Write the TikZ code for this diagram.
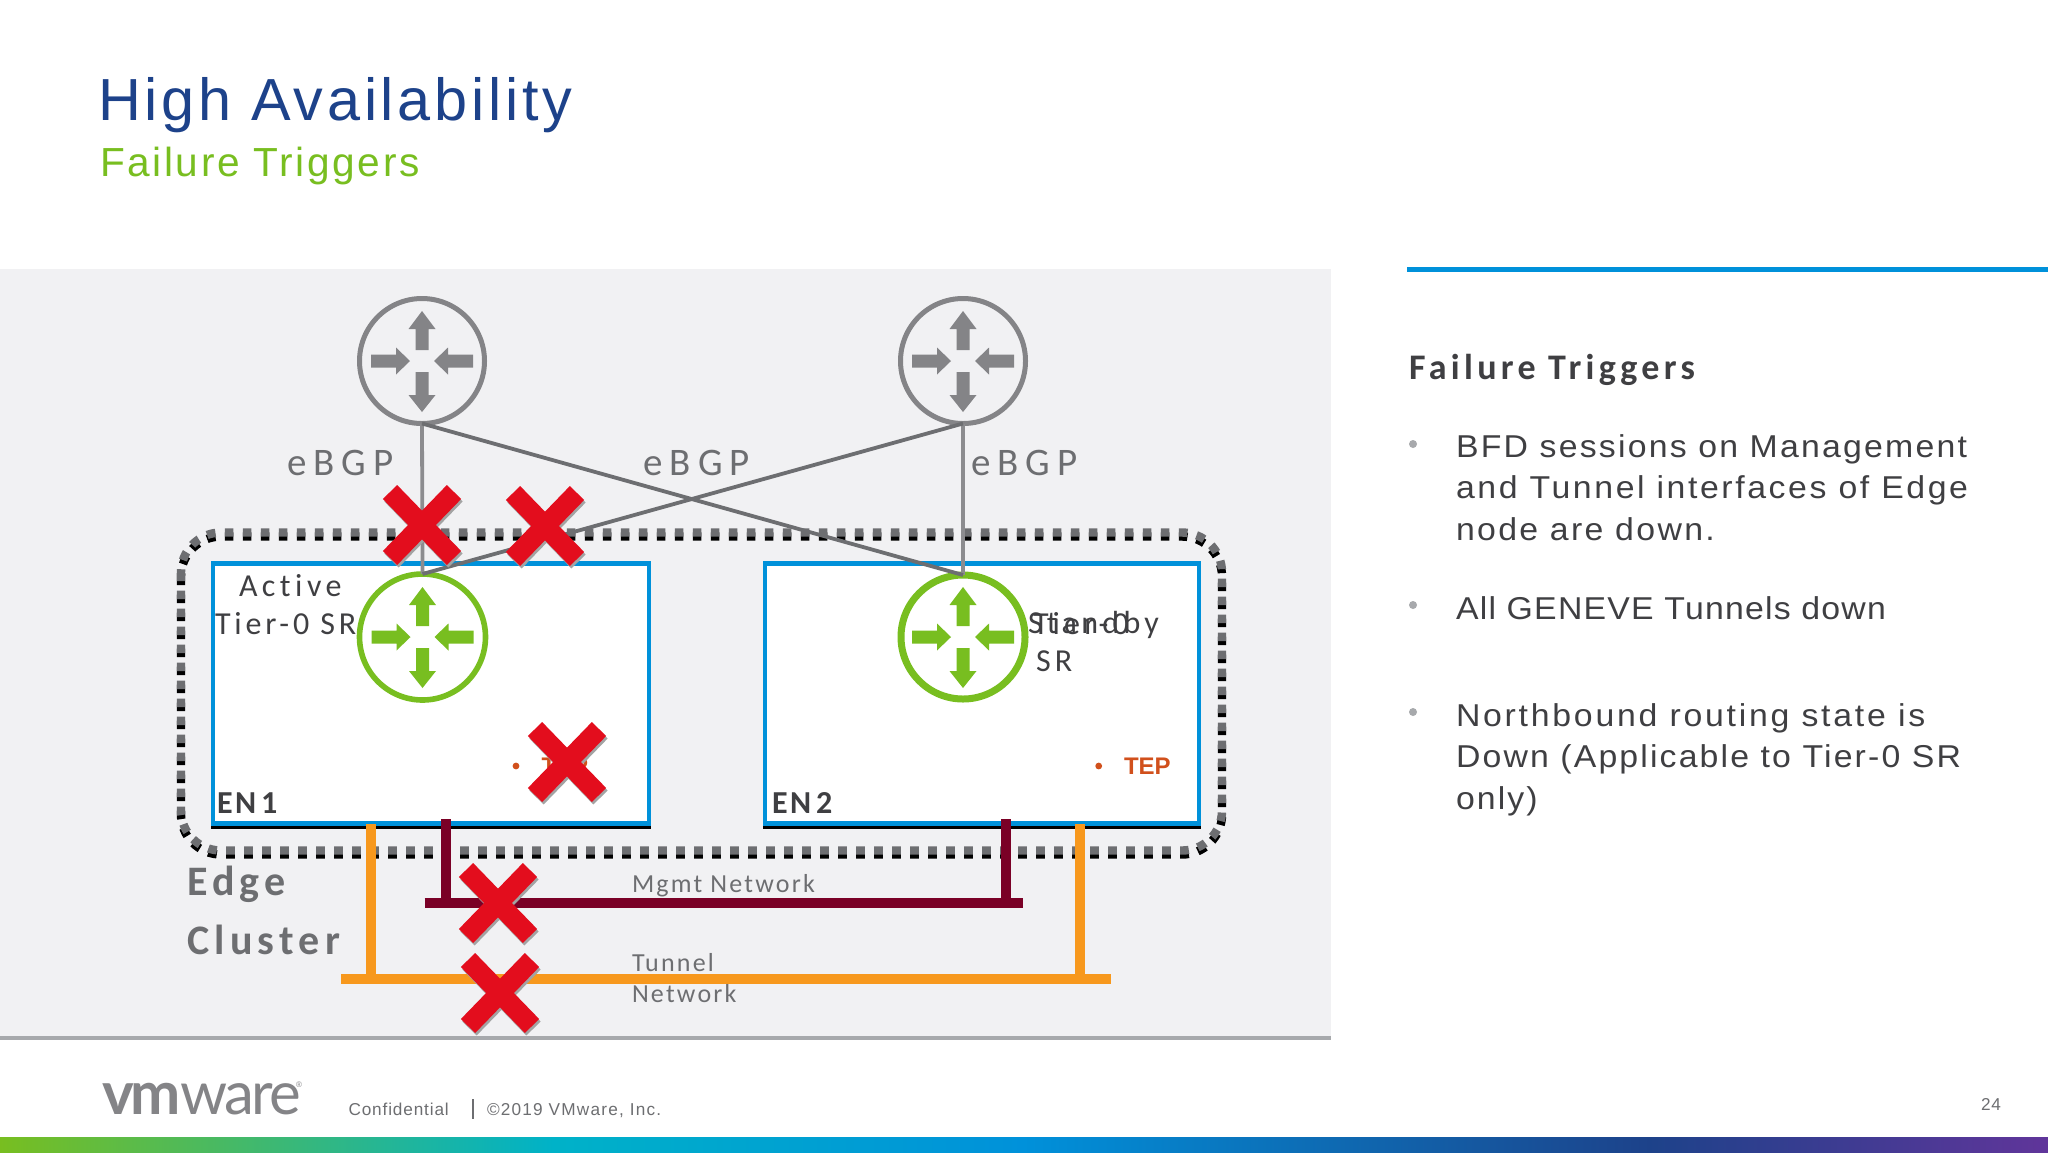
\documentclass[tikz,border=0pt]{standalone}
\usepackage{fontspec}
\usetikzlibrary{calc}
\setmainfont{Liberation Sans}
\newfontfamily\bodyfont[FakeStretch=1.07]{Liberation Sans}
\newfontfamily\calfont[Ligatures=NoCommon]{Carlito}
\newfontfamily\calnarrow[Ligatures=NoCommon,WordSpace=0.5]{Carlito}
\newfontfamily\latofont{Lato}
\definecolor{panel}{HTML}{F1F1F3}
\definecolor{vmblue}{HTML}{0091DA}
\definecolor{navy}{HTML}{1D428A}
\definecolor{vmgreen}{HTML}{78BE20}
\definecolor{vmteal}{HTML}{00B2C8}
\definecolor{vmpurple}{HTML}{60359A}
\definecolor{greyline}{HTML}{6D6E71}
\definecolor{greyv}{HTML}{8C8C8F}
\definecolor{greyr}{HTML}{848487}
\definecolor{darktext}{HTML}{3F3F42}
\definecolor{xred}{HTML}{E30D1D}
\definecolor{xshadow}{HTML}{A3A3A3}
\definecolor{orangeb}{HTML}{F7981D}
\definecolor{maroon}{HTML}{7A0026}
\definecolor{tepc}{HTML}{D1501C}
\definecolor{ruleg}{HTML}{A7A9AC}
\newcommand{\fsz}[1]{\fontsize{#1}{#1}\selectfont}
\tikzset{
  x=0.5pt,y=-0.5pt,
  lbl/.style={inner sep=0pt,outer sep=0pt,anchor=base west},
  routerg/.style={circle,draw=greyr,line width=2.5pt,minimum size=62.5pt,inner sep=0pt,outer sep=0pt,fill=panel},
  routerc/.style={circle,draw=vmgreen,line width=3.5pt,minimum size=62pt,inner sep=0pt,outer sep=0pt,fill=white},
  cross/.style={line width=1.9pt,draw=greyline},
  vert/.style={line width=1.9pt,draw=greyv},
  boxn/.style={rectangle,draw=vmblue,fill=white,line width=2.3pt,minimum width=218pt,minimum height=130pt,inner sep=0pt,outer sep=0pt},
  orangeline/.style={draw=orangeb,line width=4.7pt},
  maroonline/.style={draw=maroon,line width=4.7pt},
  pics/rarrows/.style={code={
    \fill[#1] (-6.5,-11) -- (-6.5,-32) -- (-13.5,-32) -- (0,-50) -- (13.5,-32) -- (6.5,-32) -- (6.5,-11) -- cycle;
    \fill[#1] (-6.5,11) -- (-6.5,34) -- (-13.5,34) -- (0,51) -- (13.5,34) -- (6.5,34) -- (6.5,11) -- cycle;
    \fill[#1] (-51,-6.5) -- (-26,-6.5) -- (-26,-13.5) -- (-12,0) -- (-26,13.5) -- (-26,6.5) -- (-51,6.5) -- cycle;
    \fill[#1] (51,-6.5) -- (26,-6.5) -- (26,-13.5) -- (12,0) -- (26,13.5) -- (26,6.5) -- (51,6.5) -- cycle;
  }},
  pics/redx/.style={code={
    \draw[xshadow,line width=10pt] (-30.5,-30.5) -- (33.5,35.5) (33.5,-30.5) -- (-30.5,35.5);
    \draw[xred,line width=10pt] (-32,-33) -- (32,33) (32,-33) -- (-32,33);
  }},
}
\begin{document}
\begin{tikzpicture}
\useasboundingbox (0,0) rectangle (2048,1152);
\fill[white] (0,0) rectangle (2048,1152);
% panel
\fill[panel] (0,269) rectangle (1331,1036);
\fill[ruleg] (0,1036) rectangle (1331,1040);
% top-right rule
\fill[vmblue] (1407,267) rectangle (2048,272);
% bottom band
\shade[left color=vmgreen,right color=vmteal] (0,1137) rectangle (553,1152);
\shade[left color=vmteal,right color=vmblue] (552,1137) rectangle (1024,1152);
\shade[left color=vmblue,right color=navy] (1023,1137) rectangle (1650,1152);
\shade[left color=navy,right color=vmpurple] (1649,1137) rectangle (2048,1152);
% title
\node[lbl,text=navy] (title) at (98,120) {\fsz{29.7}\addfontfeature{LetterSpace=6.3}High Availability};
\node[lbl,text=vmgreen] (subtitle) at (100,176) {\fsz{20.3}\addfontfeature{LetterSpace=6.5}Failure Triggers};
% dashed cluster
\draw[black,line width=4.2pt,dash pattern=on 4.3pt off 4.7pt,rounded corners=20pt,yshift=-2pt] (181,532.5) rectangle (1222,850.5);
\draw[greyline,line width=4.2pt,dash pattern=on 4.3pt off 4.7pt,rounded corners=20pt] (181,532.5) rectangle (1222,850.5);
% boxes
\fill[black] (211,600) rectangle (651,829);
\fill[black] (763,600) rectangle (1201,829);
\node[boxn] (en1) at (431,693.5) {};
\node[boxn,minimum width=217pt] (en2) at (982,693.5) {};
% routers
\node[routerg] (r1) at (422,361) {};
\node[routerg] (r2) at (963,361) {};
\node[routerc,line width=2.8pt,minimum size=63pt] (g1) at (422.5,637) {};
\node[routerc] (g2) at (963,637) {};
\pic at (422,361) {rarrows=greyr};
\pic at (963,361) {rarrows=greyr};
\pic at (422.5,637) {rarrows=vmgreen};
\pic at (963,637) {rarrows=vmgreen};
% links
\draw[vert] (r1.south) -- (g1.north);
\draw[vert] (r2.south) -- (g2.north);
\draw[cross] (r1.south) -- (g2.north);
\draw[cross] (r2.south) -- (g1.north);
% networks
\coordinate (mgl) at (424.5,903);
\coordinate (mgr) at (1023,903);
\coordinate (tnl) at (341,979);
\coordinate (tnr) at (1111,979);
\coordinate (m1) at (446,819);
\coordinate (m2) at (1006,819);
\coordinate (t1) at (371,824);
\coordinate (t2) at (1080,824);
\draw[maroonline] (mgl) -- (mgr);
\draw[maroonline] (m1) -- (m1 |- mgl);
\draw[maroonline] (m2) -- (m2 |- mgl);
\draw[orangeline] (tnl) -- (tnr);
\draw[orangeline] (t1) -- (t1 |- tnl);
\draw[orangeline] (t2) -- (t2 |- tnl);
% labels diagram
\node[lbl,text=greyline] (b1) at (287,475) {\calfont\fsz{19.5}\addfontfeature{LetterSpace=18}eBGP};
\node[lbl,text=greyline] (b2) at (643.5,475) {\calfont\fsz{19.5}\addfontfeature{LetterSpace=18}eBGP};
\node[lbl,text=greyline] (b3) at (971,475) {\calfont\fsz{19.5}\addfontfeature{LetterSpace=18}eBGP};
\node[lbl,text=darktext] (act) at (239,596.5) {\calfont\fsz{16}\addfontfeature{LetterSpace=14}Active};
\node[lbl,text=darktext] (t0a) at (215,634) {\calfont\fsz{16}\addfontfeature{LetterSpace=12}Tier-0 SR};
\node[lbl,text=darktext] (stb) at (1028,633) {\calfont\fsz{16}\addfontfeature{LetterSpace=13.5}Standby};
\node[lbl,text=darktext] (t0b) at (1033,634) {\calfont\fsz{16}\addfontfeature{LetterSpace=13}Tier-0};
\node[lbl,text=darktext] (srb) at (1036,671.5) {\calfont\fsz{16}\addfontfeature{LetterSpace=13}SR};
\node[lbl,text=darktext] (n1) at (217,813.5) {\calnarrow\bfseries\fsz{16}\addfontfeature{LetterSpace=8}EN 1};
\node[lbl,text=darktext] (n2) at (772,813.5) {\calnarrow\bfseries\fsz{16}\addfontfeature{LetterSpace=8}EN 2};
\fill[tepc] (1098.7,766) circle (3.4);
\node[lbl,text=tepc] (tep2) at (1124,774) {\bfseries\fsz{12}TEP};
\fill[tepc] (516,766) circle (3.4);
\node[lbl,text=tepc] (tep1) at (541.5,774) {\bfseries\fsz{12}TEP};
\node[lbl,text=greyline] (edge) at (187,895) {\calfont\bfseries\fsz{21}\addfontfeature{LetterSpace=12.5}Edge};
\node[lbl,text=greyline] (clus) at (187,954) {\calfont\bfseries\fsz{21}\addfontfeature{LetterSpace=12.5}Cluster};
\node[lbl,text=greyline] (mgmt) at (632,892) {\calfont\fsz{13}\addfontfeature{LetterSpace=8.5}Mgmt Network};
\node[lbl,text=greyline] (tun) at (632,971) {\calfont\fsz{13}\addfontfeature{LetterSpace=8.5}Tunnel};
\node[lbl,text=greyline] (net) at (632,1002) {\calfont\fsz{13}\addfontfeature{LetterSpace=8.5}Network};
% red crosses
\pic at (422,525) {redx};
\pic at (545,526) {redx};
\pic at (567,762) {redx};
\pic at (498,903) {redx};
\pic at (500,993) {redx};
% right text
\node[lbl,text=darktext] (rh) at (1409,379) {\calfont\bfseries\fsz{18}\addfontfeature{LetterSpace=12}Failure Triggers};
\fill[ruleg] (1413,444) circle (4);
\fill[ruleg] (1413,605) circle (4);
\fill[ruleg] (1413,712) circle (4);
\node[lbl,text=darktext] (l1) at (1456,457) {\bodyfont\fsz{15.8}\addfontfeature{LetterSpace=7}BFD sessions on Management};
\node[lbl,text=darktext] (l2) at (1456,498) {\bodyfont\fsz{15.8}\addfontfeature{LetterSpace=8.2}and Tunnel interfaces of Edge};
\node[lbl,text=darktext] (l3) at (1456,540) {\bodyfont\fsz{15.8}\addfontfeature{LetterSpace=7.4}node are down.};
\node[lbl,text=darktext] (l4) at (1456,619) {\bodyfont\fsz{15.8}\addfontfeature{LetterSpace=3.9}All GENEVE Tunnels down};
\node[lbl,text=darktext] (l5) at (1456,726) {\bodyfont\fsz{15.8}\addfontfeature{LetterSpace=8.7}Northbound routing state is};
\node[lbl,text=darktext] (l6) at (1456,767) {\bodyfont\fsz{15.8}\addfontfeature{LetterSpace=6.8}Down (Applicable to Tier-0 SR};
\node[lbl,text=darktext] (l7) at (1456,809) {\bodyfont\fsz{15.8}\addfontfeature{LetterSpace=6.6}only)};
% footer
\node[lbl,text=greyr] (logo) at (102,1114) {\latofont\fsz{30}{\bfseries\addfontfeature{LetterSpace=-6}vm}{\addfontfeature{LetterSpace=-4.5}ware}};
\node[lbl,text=greyr] (reg) at (296,1087) {\fsz{4}\textregistered};
\node[lbl,text=greyline] (conf) at (348.5,1115.5) {\fsz{8.6}\addfontfeature{LetterSpace=5}Confidential};
\draw[greyline,line width=0.7pt] (473,1099) -- (473,1119);
\node[lbl,text=greyline] (copy) at (487,1115.5) {\fsz{8.6}\addfontfeature{LetterSpace=7}©2019 VMware, Inc.};
\node[lbl,text=greyline] (pg) at (1981,1110) {\fsz{8.6}\addfontfeature{LetterSpace=5}24};
\end{tikzpicture}
\end{document}
